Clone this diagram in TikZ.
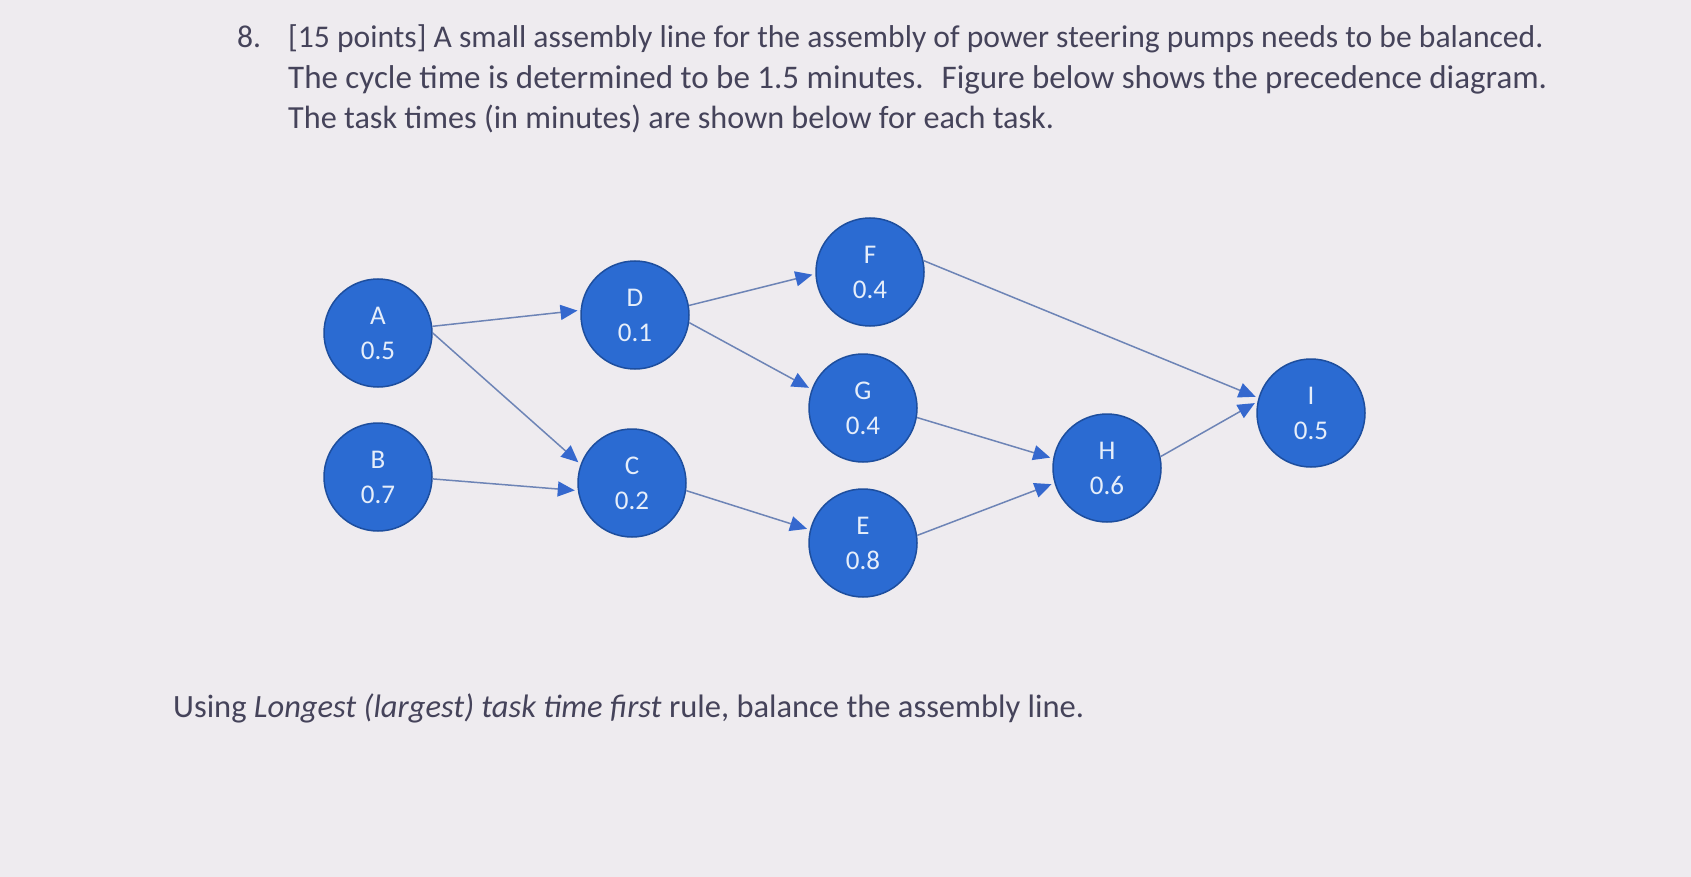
\documentclass[tikz,border=0pt]{standalone}
\usepackage{fontspec}
\setmainfont{Carlito}
\usetikzlibrary{arrows.meta}
\definecolor{bgc}{HTML}{EEEBEF}
\definecolor{nodefill}{HTML}{2B6BD2}
\definecolor{nodeedge}{HTML}{1D4E9E}
\definecolor{edgec}{HTML}{6D84B6}
\definecolor{tipc}{HTML}{3568CE}
\definecolor{txt}{HTML}{45435A}
\definecolor{ntxt}{HTML}{E6EEFA}
\tikzset{
  task/.style={circle, fill=nodefill, draw=nodeedge, line width=1.5pt, minimum size=108pt, inner sep=0pt,
    align=center, text=ntxt, font=\fontsize{27}{35}\selectfont},
  prec/.style={draw=edgec, line width=1.5pt, -{Triangle[length=17pt,width=15pt,fill=tipc,color=tipc]}, shorten >=3pt},
  qtext/.style={anchor=base west, inner sep=0pt, text=txt, font=\fontsize{31.6}{40}\selectfont},
  qtextb/.style={anchor=base west, inner sep=0pt, text=txt, font=\fontsize{33}{40}\selectfont},
  qtextc/.style={anchor=base west, inner sep=0pt, text=txt, font=\fontsize{32.2}{40}\selectfont},
  utext/.style={anchor=base west, inner sep=0pt, text=txt, font=\fontsize{32.5}{40}\selectfont}
}
\begin{document}
\begin{tikzpicture}[x=1pt,y=-1pt]
\fill[bgc] (0,0) rectangle (1691,877);
\useasboundingbox (0,0) rectangle (1691,877);
\node[qtext] (num) at (237,48) {8.};
\node[qtext] (l1) at (288,48) {[15 points] A small assembly line for the assembly of power steering pumps needs to be balanced.};
\node[qtextb] (l2) at (288,89) {The cycle time is determined to be 1.5 minutes.\hspace{18pt}Figure below shows the precedence diagram.};
\node[qtextc] (l3) at (288,129) {The task times (in minutes) are shown below for each task.};
\node[utext] (l4) at (173,717) {Using \textit{Longest (largest) task time first} rule, balance the assembly line.};
\node[task] (A) at (378,333) {A\\0.5};
\node[task] (B) at (378,477) {B\\0.7};
\node[task] (D) at (635,315) {D\\0.1};
\node[task] (C) at (632,483) {C\\0.2};
\node[task] (F) at (870,272) {F\\0.4};
\node[task] (G) at (863,408) {G\\0.4};
\node[task] (E) at (863,543) {E\\0.8};
\node[task] (H) at (1107,468) {H\\0.6};
\node[task] (I) at (1311,413) {I\\0.5};
\draw[prec] (A.7) -- (D.175);
\draw[prec] (A.0) -- (C.160);
\draw[prec] (B.-2) -- (C.188);
\draw[prec] (D.10) -- (F.182);
\draw[prec] (D.-8) -- (G.160);
\draw[prec] (C.-8) -- (E.166);
\draw[prec] (F.12) -- (I.164);
\draw[prec] (G.-10) -- (H.170);
\draw[prec] (E.8) -- (H.196);
\draw[prec] (H.12) -- (I.168);
\end{tikzpicture}
\end{document}
